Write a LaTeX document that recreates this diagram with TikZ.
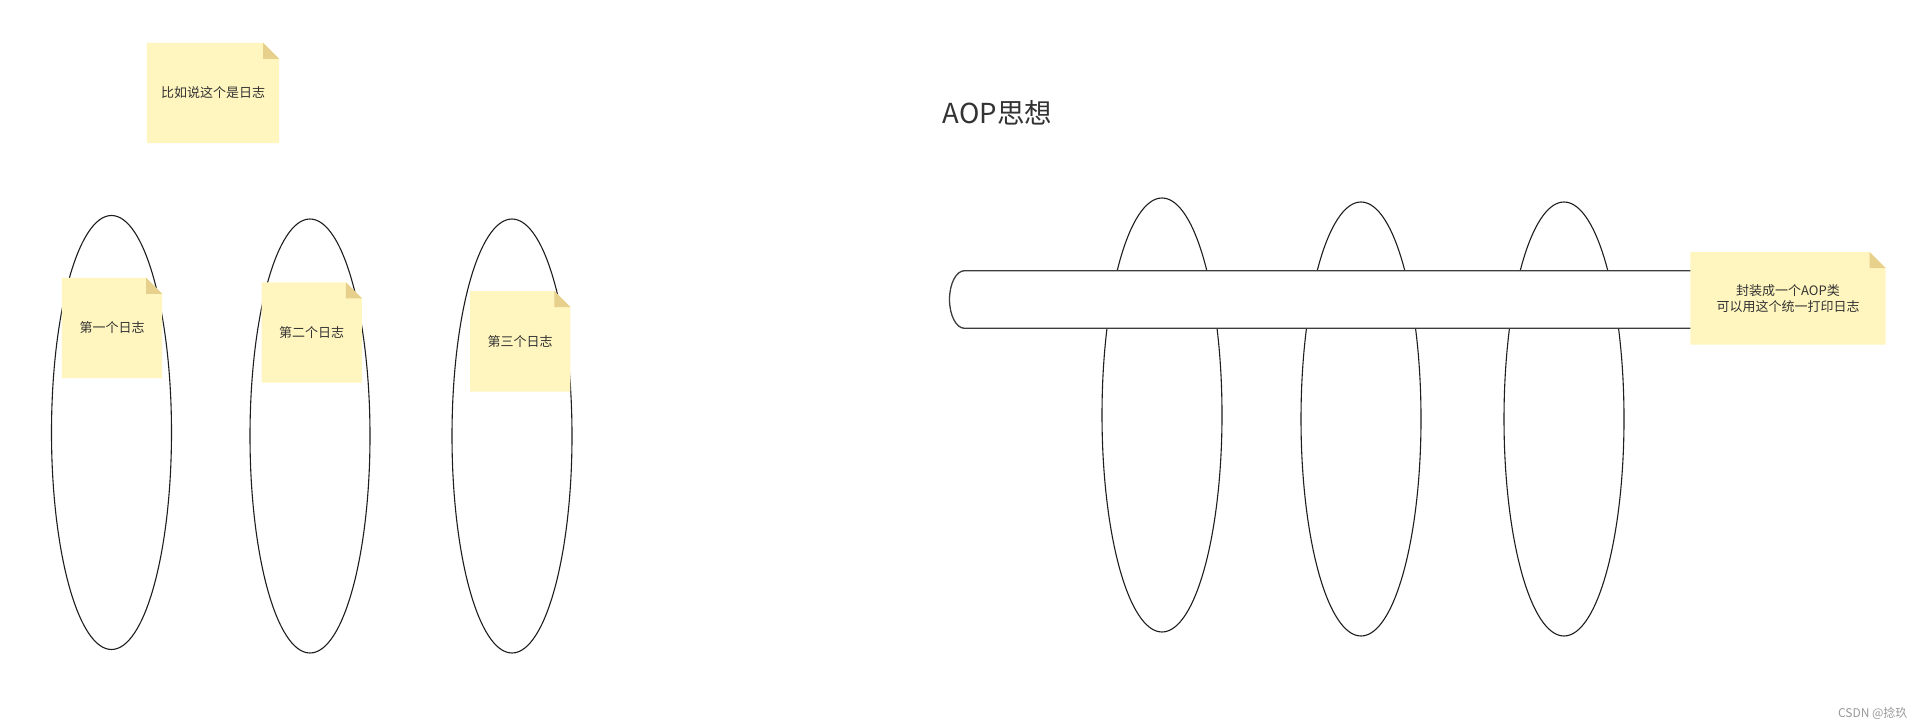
\documentclass[tikz,border=0pt]{standalone}
\usepackage{fontspec}
\setmainfont{Noto Sans CJK SC}
\usetikzlibrary{shapes.geometric}
\pgfdeclarelayer{shapes}
\pgfdeclarelayer{notes}
\pgfsetlayers{shapes,notes,main}
\definecolor{notefill}{HTML}{FFF6BF}
\definecolor{foldfill}{HTML}{E6D08C}
\definecolor{txt}{HTML}{333333}
\definecolor{lineclr}{HTML}{1E1E1E}
\definecolor{cylclr}{HTML}{3C3C3C}
\definecolor{mark}{HTML}{999999}
\newcommand\notefillfor[1]{%
  \fill[notefill] (#1.north west) -- ([xshift=-16pt]#1.north east) -- ([yshift=-16pt]#1.north east) -- (#1.south east) -- (#1.south west) -- cycle;
  \fill[foldfill] ([xshift=-16pt]#1.north east) -- ([xshift=-16pt,yshift=-16pt]#1.north east) -- ([yshift=-16pt]#1.north east) -- cycle;}
\tikzset{
  oval/.style={ellipse, draw=lineclr, line width=1.1pt, fill=white, minimum width=120pt, minimum height=434pt, inner sep=0pt},
  notenode/.style={inner sep=0pt, text=txt, font=\fontsize{13}{16}\selectfont, align=center},
}
\begin{document}
\begin{tikzpicture}[x=1pt,y=-1pt]
\useasboundingbox (0,0) rectangle (1921,727);
\begin{pgfonlayer}{shapes}
\fill[white] (0,0) rectangle (1921,727);
% left ellipses
\node[oval] (e1) at (111.5,432.5) {};
\node[oval] (e2) at (310,436) {};
\node[oval] (e3) at (512,436) {};
% right ellipses
\node[oval] (r1) at (1162,415) {};
\node[oval] (r2) at (1361,419) {};
\node[oval] (r3) at (1564,419) {};
% horizontal cylinder
\draw[cylclr, line width=1.3pt, fill=white] (964.5,328.3) arc[start angle=90, end angle=270, x radius=15, y radius=28.8] -- (1720,270.7) -- (1720,328.3) -- cycle;
\end{pgfonlayer}
% title
\node[text=txt, font=\fontsize{27.5}{32}\selectfont] (title) at (997.5,112.5) {AOP思想};
% notes
\node[notenode, minimum width=132pt, minimum height=100pt] (n0) at (213,93) {比如说这个是日志};
\node[notenode, minimum width=100pt, minimum height=100pt] (n1) at (112,328) {第一个日志};
\node[notenode, minimum width=100pt, minimum height=100pt] (n2) at (311.7,332.5) {第二个日志};
\node[notenode, minimum width=100pt, minimum height=100pt] (n3) at (520.2,341.3) {第三个日志};
\node[notenode, minimum width=195pt, minimum height=92pt] (n4) at (1788,298.4) {封装成一个AOP类\\可以用这个统一打印日志};
\begin{pgfonlayer}{notes}
\notefillfor{n0}
\notefillfor{n1}
\notefillfor{n2}
\notefillfor{n3}
\notefillfor{n4}
\end{pgfonlayer}
% watermark
\node[text=mark, font=\fontsize{12}{14}\selectfont, anchor=east] (wm) at (1911,713) {CSDN @捻玖};
\end{tikzpicture}
\end{document}
